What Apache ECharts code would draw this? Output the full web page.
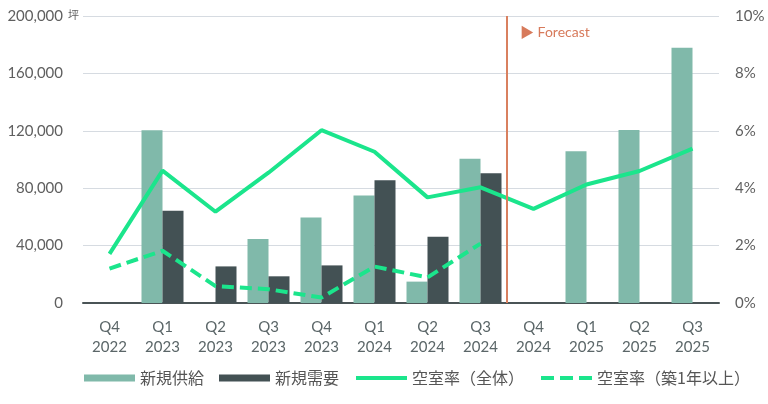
<!DOCTYPE html>
<html>
<head>
<meta charset="utf-8">
<script src="https://cdn.jsdelivr.net/npm/echarts@6/dist/echarts.min.js"></script>
<style>
html,body{margin:0;padding:0;background:#fff;}
#c{width:768px;height:404px;}
</style>
</head>
<body>
<div id="c"></div>
<script>
const categories = ['Q4\n2022','Q1\n2023','Q2\n2023','Q3\n2023','Q4\n2023','Q1\n2024','Q2\n2024','Q3\n2024','Q4\n2024','Q1\n2025','Q2\n2025','Q3\n2025'];
const newSupply = [null, 120300, null, 44600, 59500, 75000, 14900, 100600, null, 105700, 120600, 177900];
const newDemand = [null, 64300, 25500, 18600, 26200, 85500, 46200, 90400, null, null, null, null];
const vacancyAll = [1.71, 4.61, 3.18, 4.54, 6.02, 5.27, 3.68, 4.03, 3.28, 4.13, 4.60, 5.38];
const vacancyOld = [1.20, 1.82, 0.59, 0.48, 0.19, 1.27, 0.89, 2.07, null, null, null, null];
const forecastStart = 8;
const seriesNames = ['新規供給','新規需要','空室率（全体）','空室率（築1年以上）'];

const font = 'Lato, "Noto Sans CJK JP", sans-serif';
const chart = echarts.init(document.getElementById('c'));
chart.setOption({
  animation: false,
  textStyle: {fontFamily: font},
  grid: {left: 83, right: 49, top: 16, bottom: 101, containLabel: false},
  legend: {
    left: 79, top: 365,
    itemWidth: 51, itemHeight: 7, itemGap: 15,
    textStyle: {fontSize: 16, color: '#555', fontFamily: '"Noto Sans CJK JP", sans-serif'},
    data: [
      {name: seriesNames[0], icon: 'rect'},
      {name: seriesNames[1], icon: 'rect'},
      {name: seriesNames[2], itemStyle: {opacity: 0}, lineStyle: {width: 4}},
      {name: seriesNames[3], itemStyle: {opacity: 0}, lineStyle: {width: 4, type: [13, 6]}}
    ]
  },
  xAxis: [{
    type: 'category', data: categories,
    axisLine: {lineStyle: {color: '#4a5456', width: 2}},
    axisTick: {show: false},
    axisLabel: {color: '#5b6668', fontSize: 15, lineHeight: 20, margin: 14}
  }, {
    type: 'value', min: 0, max: 12, show: false
  }],
  yAxis: [{
    type: 'value', min: 0, max: 200000, interval: 40000,
    axisLine: {show: false}, axisTick: {show: false},
    splitLine: {lineStyle: {color: '#d6dbe1', width: 1}},
    axisLabel: {color: '#5f5f5f', fontSize: 15, margin: 20,
      formatter: v => v.toLocaleString('en-US')}
  }, {
    type: 'value', min: 0, max: 10, interval: 2,
    axisLine: {show: false}, axisTick: {show: false},
    splitLine: {show: false},
    axisLabel: {color: '#5f5f5f', fontSize: 15, margin: 16, formatter: '{value}%'}
  }],
  graphic: [
    {type: 'text', left: 68, top: 9, style: {text: '坪', fontSize: 11, fill: '#5f5f5f', fontFamily: '"Noto Sans CJK JP"'}},
    {type: 'text', left: 520, top: 25, style: {text: '▶ Forecast', fontSize: 14, fill: '#d77a5b', fontFamily: font}}
  ],
  series: [
    {name: seriesNames[0], type: 'bar', data: newSupply, barWidth: 21, barGap: '0%',
      itemStyle: {color: '#80b9aa'}},
    {name: seriesNames[1], type: 'bar', data: newDemand, barWidth: 21, barGap: '0%',
      itemStyle: {color: '#435154'}},
    {name: seriesNames[2], type: 'line', yAxisIndex: 1, data: vacancyAll, symbol: 'none',
      lineStyle: {color: '#1be58c', width: 4}, itemStyle: {color: '#1be58c'}},
    {name: seriesNames[3], type: 'line', yAxisIndex: 1, data: vacancyOld, symbol: 'none',
      lineStyle: {color: '#1be58c', width: 4, type: [12, 6]}, itemStyle: {color: '#1be58c'}},
    {type: 'scatter', xAxisIndex: 1, yAxisIndex: 0, data: [], silent: true,
      markLine: {symbol: 'none', silent: true, label: {show: false},
        lineStyle: {color: '#d9805f', width: 2, type: 'solid'},
        data: [{xAxis: forecastStart}]}}
  ]
});
</script>
</body>
</html>
